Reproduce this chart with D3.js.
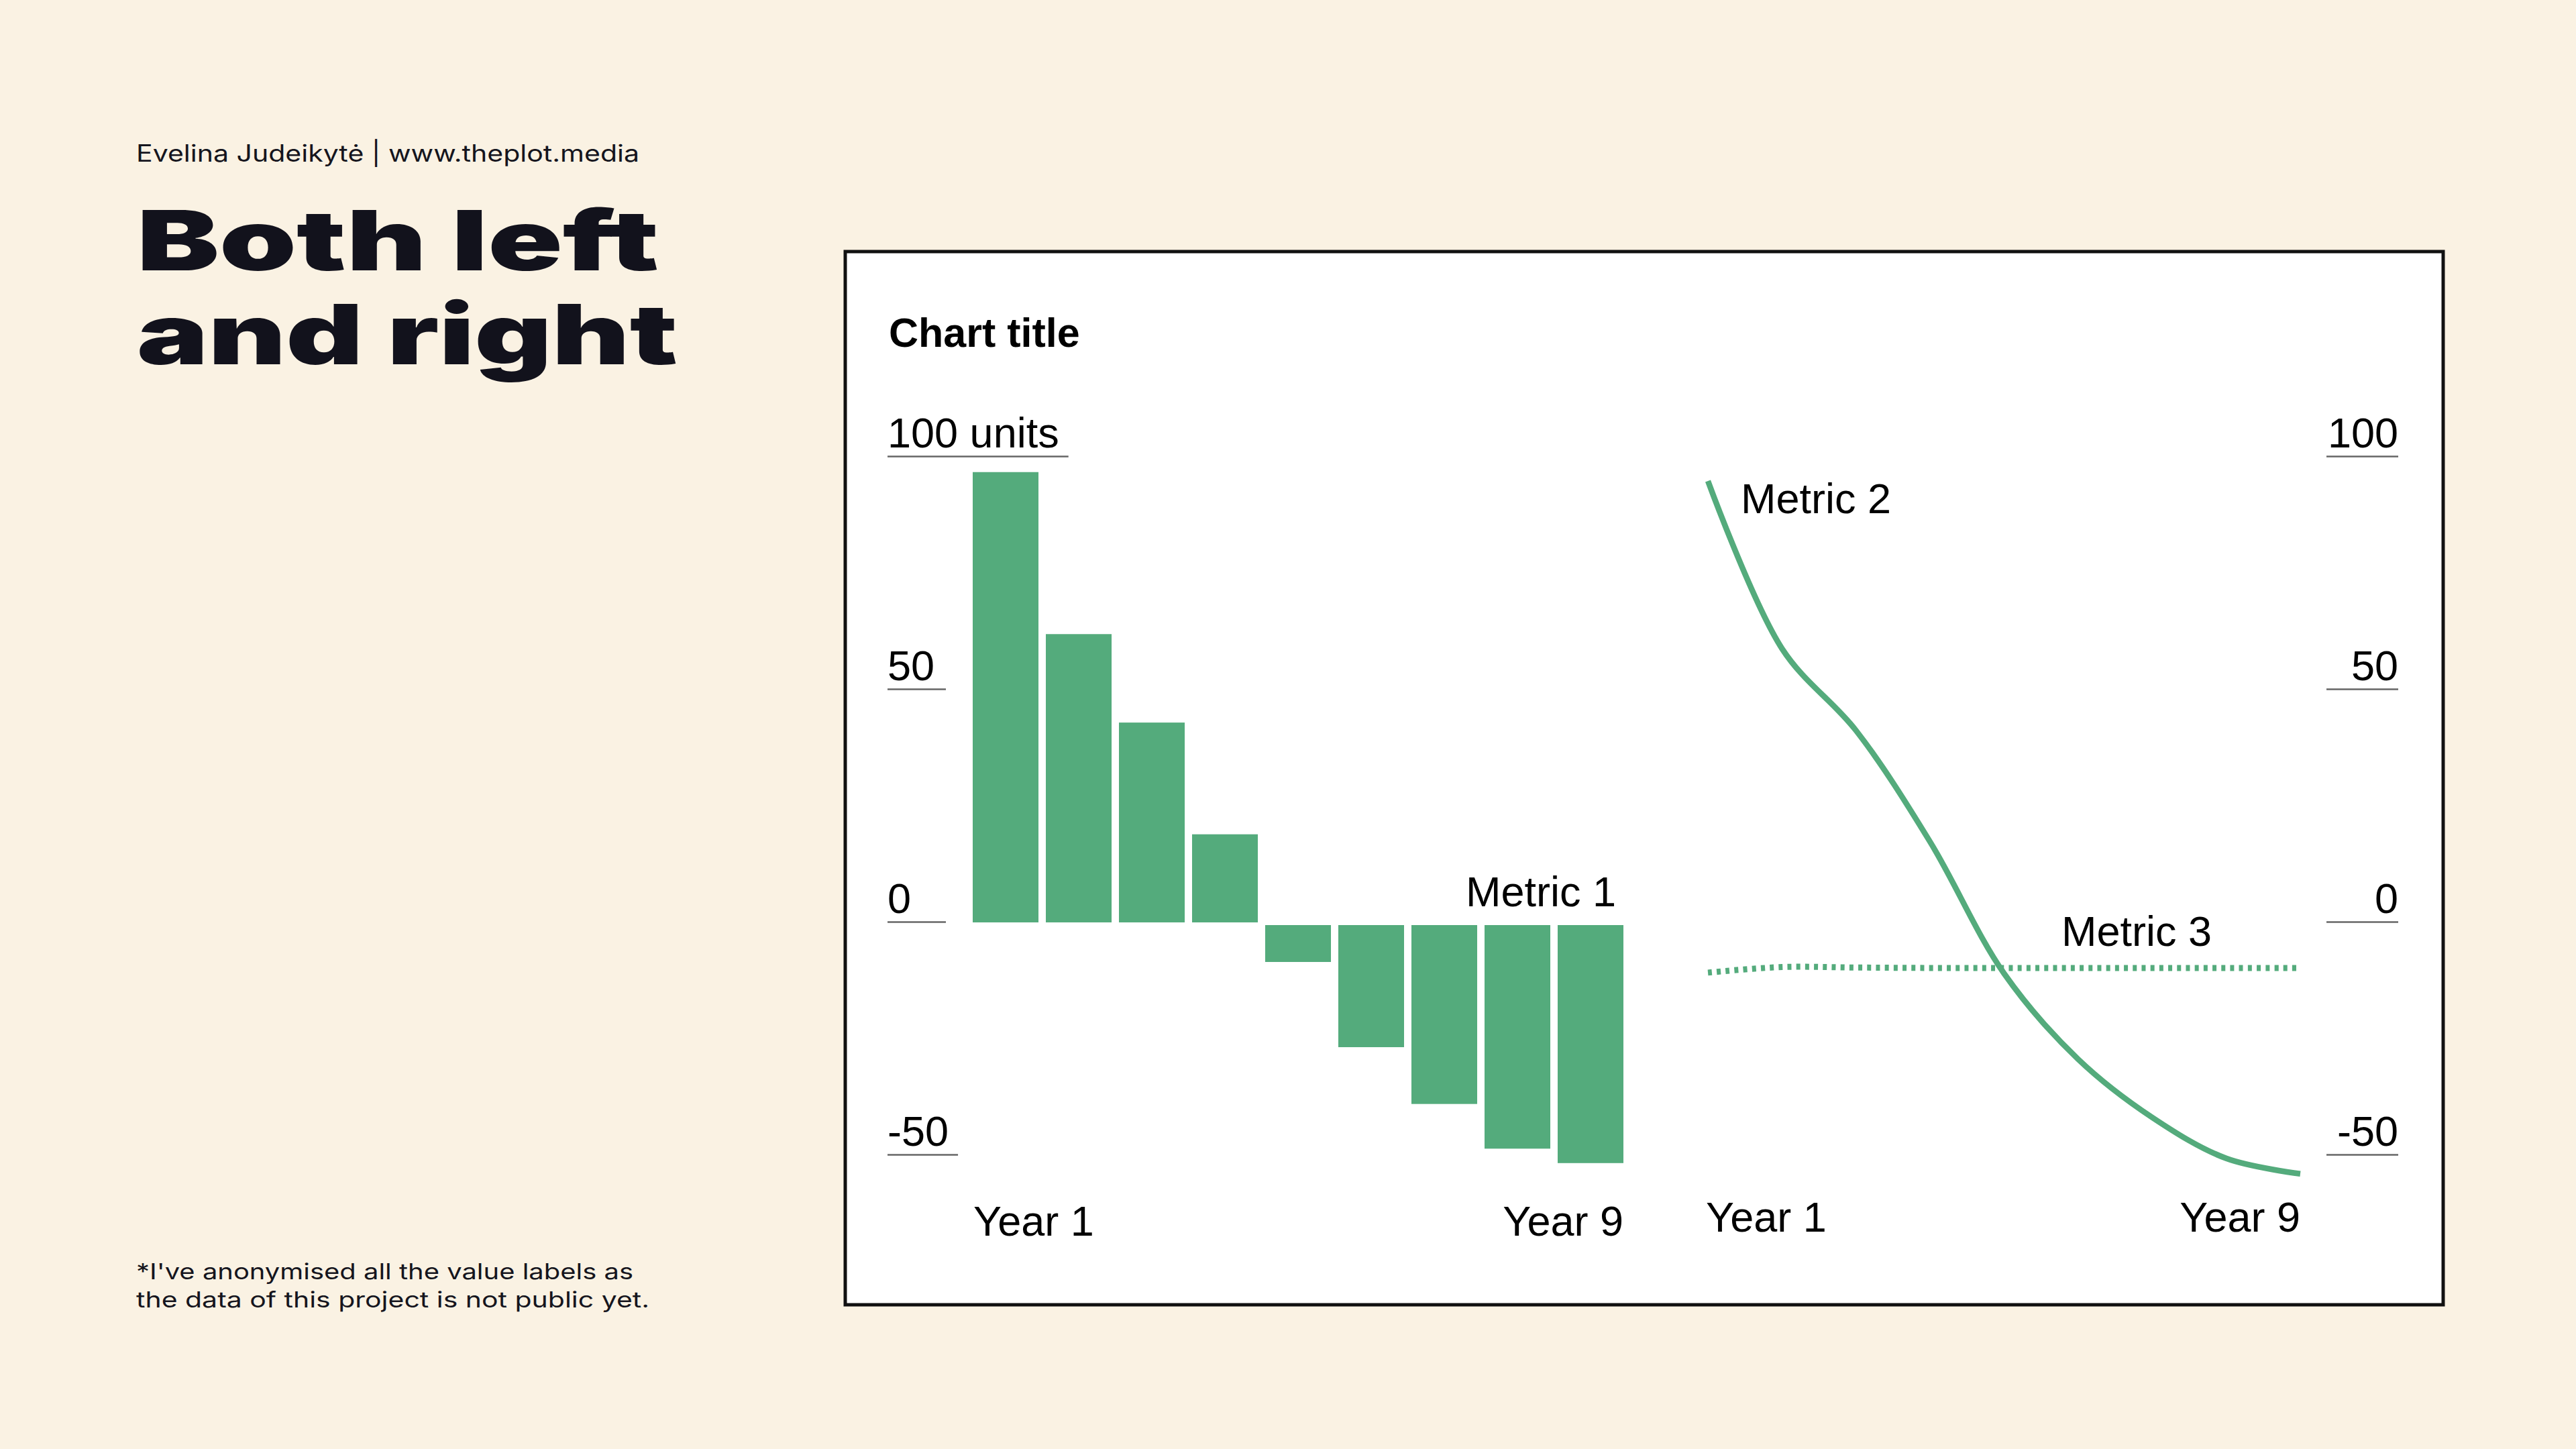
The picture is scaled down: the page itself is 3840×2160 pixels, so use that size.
<!DOCTYPE html>
<html>
<head>
<meta charset="utf-8">
<script src="https://cdn.jsdelivr.net/npm/d3@7"></script>
<style>
  body { margin: 0; background: #faf2e3; }
  svg { display: block; }
</style>
</head>
<body>
<div id="chart"></div>
<script>
// data
const years = ["Year 1", "Year 2", "Year 3", "Year 4", "Year 5", "Year 6", "Year 7", "Year 8", "Year 9"];
const metric1 = [97.3, 62.5, 43.5, 19.5, -8.5, -26.8, -39.0, -48.6, -51.7];
const metric2 = [95.1, 59.1, 41.5, 17.6, -10.7, -29.1, -41.6, -50.4, -53.7];
const metric3 = [-10.5, -9.3, -9.4, -9.5, -9.5, -9.5, -9.5, -9.5, -9.5];
const tickValues = [100, 50, 0, -50];
const leftTickLabels = ["100 units", "50", "0", "-50"];
const rightTickLabels = ["100", "50", "0", "-50"];

const green = "#54ab7c";
const chartFont = "'Liberation Sans', Arial, sans-serif";
const headFont = "Inter, 'Noto Sans', sans-serif";
const labelSize = 63;

// svg container
const svgWidth = 3840,
    svgHeight = 2160;

const svg = d3.select("#chart").append("svg")
  .attr("width", svgWidth)
  .attr("height", svgHeight);

svg.append("rect")
  .attr("width", svgWidth)
  .attr("height", svgHeight)
  .attr("fill", "#faf2e3");

// left column: credit, headline, footnote
svg.append("text")
  .attr("x", 203).attr("y", 241)
  .attr("font-family", headFont).attr("font-size", 35)
  .attr("fill", "#15151d")
  .attr("textLength", 750).attr("lengthAdjust", "spacingAndGlyphs")
  .text("Evelina Judeikytė | www.theplot.media");

const headline = ["Both left", "and right"];
const headlineWidths = [778, 806];
svg.selectAll(".headline")
  .data(headline)
  .enter()
  .append("text")
  .attr("class", "headline")
  .attr("x", 204)
  .attr("y", (d, i) => 403 + i * 140)
  .attr("font-family", headFont).attr("font-weight", 900).attr("font-size", 124)
  .attr("fill", "#12121c")
  .attr("textLength", (d, i) => headlineWidths[i])
  .attr("lengthAdjust", "spacingAndGlyphs")
  .text(d => d);

const footnote = ["*I've anonymised all the value labels as", "the data of this project is not public yet."];
const footnoteWidths = [741, 765];
svg.selectAll(".footnote")
  .data(footnote)
  .enter()
  .append("text")
  .attr("class", "footnote")
  .attr("x", 203)
  .attr("y", (d, i) => 1907 + i * 42)
  .attr("font-family", headFont).attr("font-size", 33)
  .attr("fill", "#15151d")
  .attr("textLength", (d, i) => footnoteWidths[i])
  .attr("lengthAdjust", "spacingAndGlyphs")
  .text(d => d);

// chart frame
svg.append("rect")
  .attr("x", 1260).attr("y", 375)
  .attr("width", 2382).attr("height", 1570)
  .attr("fill", "#fff")
  .attr("stroke", "#111")
  .attr("stroke-width", 5);

const chartGroup = svg.append("g")
  .attr("font-family", chartFont)
  .attr("fill", "#000");

chartGroup.append("text")
  .attr("x", 1325).attr("y", 517)
  .attr("font-size", 61).attr("font-weight", "bold")
  .text("Chart title");

// shared value scale
const yScale = d3.scaleLinear()
  .domain([-50, 100])
  .range([1724, 683]);

// bars
const xBand = d3.scaleBand()
  .domain(years)
  .range([1448, 2422])
  .paddingInner(0.064);

// line x positions
const xPoint = d3.scalePoint()
  .domain(years)
  .range([2546, 3429]);

// left axis: underlined labels
const leftAxis = d3.axisRight(yScale)
  .tickValues(tickValues)
  .tickSize(87)
  .tickFormat((d, i) => leftTickLabels[i]);

const leftG = chartGroup.append("g")
  .attr("transform", "translate(1323, -3)")
  .call(leftAxis);
leftG.attr("font-family", chartFont).attr("font-size", labelSize);
leftG.select(".domain").remove();
leftG.selectAll(".tick line").attr("stroke", "#666").attr("stroke-width", 2.5);
leftG.selectAll(".tick text")
  .attr("x", 0).attr("dy", -14)
  .attr("text-anchor", "start")
  .attr("fill", "#000");
// the underline runs under the whole label when it is wider than the tick
leftG.selectAll(".tick").each(function() {
  const t = d3.select(this).select("text").node();
  const w = t.getComputedTextLength();
  d3.select(this).select("line").attr("x2", Math.max(87, w + 14));
});

// right axis
const rightAxis = d3.axisLeft(yScale)
  .tickValues(tickValues)
  .tickSize(107)
  .tickFormat((d, i) => rightTickLabels[i]);

const rightG = chartGroup.append("g")
  .attr("transform", "translate(3575, -3)")
  .call(rightAxis);
rightG.attr("font-family", chartFont).attr("font-size", labelSize);
rightG.select(".domain").remove();
rightG.selectAll(".tick line").attr("stroke", "#666").attr("stroke-width", 2.5);
rightG.selectAll(".tick text")
  .attr("x", 0).attr("dy", -14)
  .attr("text-anchor", "end")
  .attr("fill", "#000");

// Metric 1 bars
chartGroup.selectAll(".bar")
  .data(metric1)
  .enter()
  .append("rect")
  .classed("bar", true)
  .attr("x", (d, i) => xBand(years[i]))
  .attr("y", d => yScale(Math.max(0, d)))
  .attr("width", xBand.bandwidth())
  .attr("height", d => Math.abs(yScale(d) - yScale(0)))
  .attr("fill", green)
  .attr("stroke", "#fff")
  .attr("stroke-width", 4);

// Metric 2 and 3 lines
const line = d3.line()
  .x((d, i) => xPoint(years[i]))
  .y(d => yScale(d))
  .curve(d3.curveCatmullRom.alpha(0.5));

chartGroup.append("path")
  .datum(metric3)
  .attr("d", line)
  .attr("fill", "none")
  .attr("stroke", green)
  .attr("stroke-width", 9)
  .attr("stroke-dasharray", "6 7.2");

chartGroup.append("path")
  .datum(metric2)
  .attr("d", line)
  .attr("fill", "none")
  .attr("stroke", green)
  .attr("stroke-width", 8.5);

// labels
const lastBarEnd = xBand(years[8]) + xBand.bandwidth();
const labels = [
  { text: "Metric 1", x: lastBarEnd - 13, y: 1351, anchor: "end" },
  { text: "Year 1", x: xBand(years[0]) + 3, y: 1842, anchor: "start" },
  { text: "Year 9", x: lastBarEnd - 2, y: 1842, anchor: "end" },
  { text: "Metric 2", x: xPoint(years[0]) + 49, y: 765, anchor: "start" },
  { text: "Metric 3", x: 3073, y: 1410, anchor: "start" },
  { text: "Year 1", x: xPoint(years[0]) - 3, y: 1836, anchor: "start" },
  { text: "Year 9", x: xPoint(years[8]), y: 1836, anchor: "end" }
];

chartGroup.selectAll(".label")
  .data(labels)
  .enter()
  .append("text")
  .attr("class", "label")
  .attr("x", d => d.x)
  .attr("y", d => d.y)
  .attr("text-anchor", d => d.anchor)
  .attr("font-size", labelSize)
  .text(d => d.text);
</script>
</body>
</html>
